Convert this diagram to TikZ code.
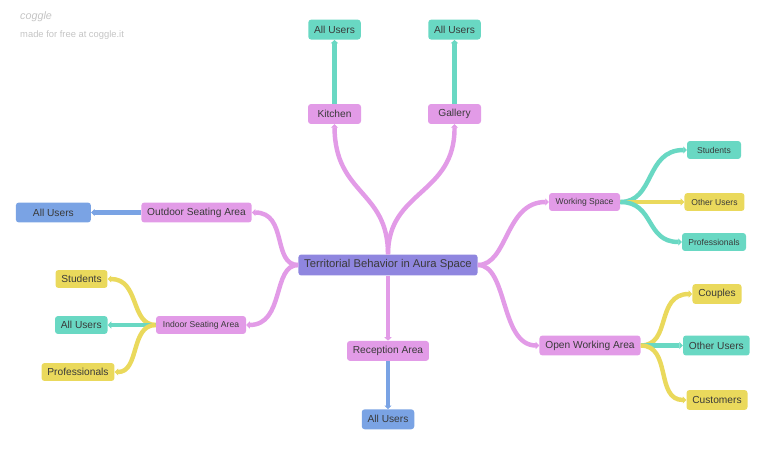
\documentclass[tikz,border=0pt]{standalone}
\usepackage{fontspec}
\setmainfont{Liberation Sans}
\usetikzlibrary{arrows.meta, positioning}

\definecolor{coggleRoot}{HTML}{8F86DF}
\definecolor{cogglePink}{HTML}{E29BE7}
\definecolor{coggleTeal}{HTML}{69D8C3}
\definecolor{coggleYellow}{HTML}{EAD95C}
\definecolor{coggleBlue}{HTML}{7AA3E4}
\definecolor{coggleText}{HTML}{3A3A3A}
\definecolor{coggleMark}{HTML}{C4C4C4}

\begin{document}
\begin{tikzpicture}[
    x=0.03cm, y=-0.03cm,
    topic/.style={
        rectangle,
        rounded corners=2.5pt,
        fill=#1,
        text=coggleText,
        inner xsep=5pt,
        inner ysep=0pt,
        minimum height=17pt,
        font=\fontsize{8.7}{10}\selectfont
    },
    subtopic/.style={
        topic=#1,
        minimum height=15.3pt,
        font=\fontsize{7.3}{9}\selectfont
    },
    link/.style={
        draw=#1,
        line width=3.8pt,
        -{Triangle[length=3pt,width=6pt]}
    }
]

\useasboundingbox (0,0) rectangle (768,454);

% ------------------------------------------------
% Watermark
% ------------------------------------------------

\node[anchor=west, inner sep=0pt, text=coggleMark, font=\fontsize{9.2}{10}\selectfont\itshape] (brand) at (20,17) {coggle};
\node[anchor=west, inner sep=0pt, text=coggleMark, font=\fontsize{8}{9}\selectfont] (brandnote) at (20,35.5) {made for free at coggle.it};

% ------------------------------------------------
% Central topic
% ------------------------------------------------

\node[topic=coggleRoot, minimum height=17.9pt, font=\fontsize{9.6}{11}\selectfont] (root) at (388,265) {Territorial Behavior in Aura Space};

% ------------------------------------------------
% Top branches
% ------------------------------------------------

\node[topic=cogglePink, minimum width=1.59cm] (kitchen) at (334.5,114) {Kitchen};
\node[topic=coggleTeal, above=1.92cm of kitchen] (kitchenUsers) {All Users};

\node[topic=cogglePink, minimum width=1.59cm] (gallery) at (454.5,114) {Gallery};
\node[topic=coggleTeal, above=1.92cm of gallery] (galleryUsers) {All Users};

% ------------------------------------------------
% Left branches
% ------------------------------------------------

\node[topic=cogglePink] (outdoor) at (196.5,212.5) {Outdoor Seating Area};
\node[topic=coggleBlue, minimum width=2.25cm, left=1.5cm of outdoor] (outdoorUsers) {All Users};

\node[subtopic=cogglePink, minimum width=2.7cm] (indoor) at (201,325) {Indoor Seating Area};
\node[topic=coggleYellow, minimum height=15.3pt] (indoorStudents) at (81.5,279) {Students};
\node[topic=coggleTeal, minimum height=15.3pt, left=1.44cm of indoor] (indoorUsers) {All Users};
\node[topic=coggleYellow, minimum height=15.3pt] (indoorProfs) at (78,372) {Professionals};

% ------------------------------------------------
% Right branches
% ------------------------------------------------

\node[subtopic=cogglePink, minimum width=2.13cm] (working) at (584.5,202) {Working Space};
\node[subtopic=coggleTeal, minimum width=1.62cm] (workStudents) at (714,150) {Students};
\node[subtopic=coggleYellow, minimum width=1.8cm, right=1.92cm of working] (workOthers) {Other Users};
\node[subtopic=coggleTeal, minimum width=1.92cm] (workProfs) at (714,242) {Professionals};

\node[topic=cogglePink] (open) at (590,345.5) {Open Working Area};
\node[topic=coggleYellow] (openCouples) at (717,294) {Couples};
\node[topic=coggleTeal, right=1.26cm of open] (openOthers) {Other Users};
\node[topic=coggleYellow] (openCustomers) at (717,400) {Customers};

% ------------------------------------------------
% Bottom branch
% ------------------------------------------------

\node[topic=cogglePink, below=1.95cm of root] (reception) {Reception Area};
\node[topic=coggleBlue, below=1.44cm of reception] (receptionUsers) {All Users};

% ------------------------------------------------
% Links from the central topic
% ------------------------------------------------

\draw[link=cogglePink] (root.north) .. controls (388,190) and (335,195) .. (kitchen.south);
\draw[link=cogglePink] (root.north) .. controls (388,190) and (455,195) .. (gallery.south);
\draw[link=cogglePink] (root.west) .. controls (272,265) and (288,212.5) .. (outdoor.east);
\draw[link=cogglePink] (root.west) .. controls (272,265) and (285,325) .. (indoor.east);
\draw[link=cogglePink] (root.east) .. controls (508,265) and (505,202) .. (working.west);
\draw[link=cogglePink] (root.east) .. controls (508,265) and (500,345.5) .. (open.west);
\draw[link=cogglePink] (root.south) -- (reception.north);

% ------------------------------------------------
% Links to the user groups
% ------------------------------------------------

\draw[link=coggleTeal] (kitchen) -- (kitchenUsers);
\draw[link=coggleTeal] (gallery) -- (galleryUsers);
\draw[link=coggleBlue] (outdoor) -- (outdoorUsers);
\draw[link=coggleBlue] (reception) -- (receptionUsers);

\draw[link=coggleYellow] (indoor.west) .. controls (130,325) and (140,279) .. (indoorStudents.east);
\draw[link=coggleTeal] (indoor) -- (indoorUsers);
\draw[link=coggleYellow] (indoor.west) .. controls (130,325) and (140,372) .. (indoorProfs.east);

\draw[link=coggleTeal] (working.east) .. controls (655,202) and (645,150) .. (workStudents.west);
\draw[link=coggleYellow] (working) -- (workOthers);
\draw[link=coggleTeal] (working.east) .. controls (655,202) and (645,242) .. (workProfs.west);

\draw[link=coggleYellow] (open.east) .. controls (672,345.5) and (655,294) .. (openCouples.west);
\draw[link=coggleTeal] (open) -- (openOthers);
\draw[link=coggleYellow] (open.east) .. controls (672,345.5) and (655,400) .. (openCustomers.west);

\end{tikzpicture}
\end{document}
